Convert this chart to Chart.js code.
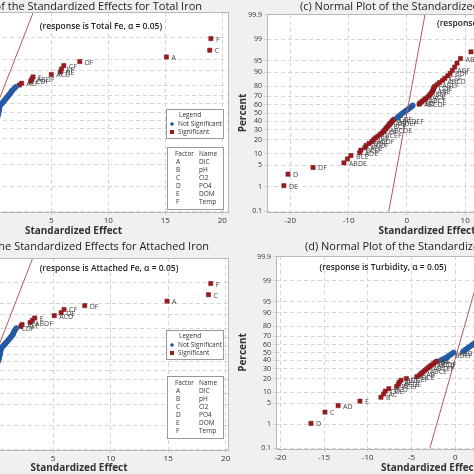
<!DOCTYPE html>
<html>
<head>
<meta charset="utf-8">
<script src="https://cdn.jsdelivr.net/npm/chart.js@4.4.0/dist/chart.umd.min.js"></script>
<style>
  body { margin: 0; width: 474px; height: 474px; overflow: hidden; position: relative; background: #f0f0f0; }
  canvas { position: absolute; }
</style>
</head>
<body>
<script>
// plotting positions (percent) for the 63 ranked effects
const pct = [1.1, 2.7, 4.3, 5.8, 7.4, 9.0, 10.6, 12.1, 13.7, 15.3, 16.9, 18.5, 20.0, 21.6, 23.2, 24.8,
  26.3, 27.9, 29.5, 31.1, 32.7, 34.2, 35.8, 37.4, 39.0, 40.5, 42.1, 43.7, 45.3, 46.8, 48.4, 50.0,
  51.6, 53.2, 54.7, 56.3, 57.9, 59.5, 61.0, 62.6, 64.2, 65.8, 67.4, 68.9, 70.5, 72.1, 73.7, 75.2,
  76.8, 78.4, 80.0, 81.5, 83.1, 84.7, 86.3, 87.9, 89.4, 91.0, 92.6, 94.2, 95.7, 97.3, 98.9];
const pctTicks = [0.1, 1, 5, 10, 20, 30, 40, 50, 60, 70, 80, 90, 95, 99, 99.9];

// (a) Total Iron
const effA = [-1.9, -1.7, -1.5, -1.3, -1.2, -1.1, -1.0, -0.9, -0.8, -0.7, -0.65, -0.6, -0.5, -0.45, -0.4, -0.3,
  -0.25, -0.2, -0.15, -0.1, -0.05, 0, 0.05, 0.1, 0.15, 0.2, 0.25, 0.28, 0.3, 0.33, 0.36, 0.38,
  0.4, 0.42, 0.44, 0.46, 0.5, 0.6, 0.7, 0.8, 0.9, 1.0, 1.1, 1.2, 1.3, 1.4, 1.5, 1.6,
  1.75, 1.9, 2.2, 2.4, 3.2, 3.3, 3.4, 5.0, 5.8, 5.9, 6.1, 7.5, 15.1, 18.9, 19.0];
const sigA = [51, 52, 53, 54, 55, 56, 57, 58, 59, 60, 61, 62, 63];
const labA = { 52: 'AEF', 53: 'CDF', 54: 'ABDF', 55: 'E', 56: 'ACD', 57: 'DE', 58: 'EF', 59: 'CF', 60: 'DF', 61: 'A', 62: 'C', 63: 'F' };
const lineA = [[-3.4, 0.1], [3.4, 99.9]];

// (b) Attached Iron
const effB = [-1.9, -1.7, -1.5, -1.3, -1.2, -1.1, -1.0, -0.9, -0.8, -0.7, -0.65, -0.6, -0.5, -0.45, -0.4, -0.3,
  -0.25, -0.2, -0.15, -0.1, -0.05, 0, 0.05, 0.1, 0.15, 0.2, 0.25, 0.28, 0.3, 0.33, 0.35, 0.37,
  0.39, 0.41, 0.43, 0.45, 0.5, 0.6, 0.7, 0.8, 0.9, 1.0, 1.1, 1.2, 1.3, 1.4, 1.5, 1.55,
  1.6, 1.7, 1.8, 2.2, 2.3, 3.0, 3.2, 3.4, 5.1, 5.7, 5.95, 7.75, 14.9, 18.5, 18.7];
const sigB = [52, 53, 54, 55, 56, 57, 58, 59, 60, 61, 62, 63];
const labB = { 51: 'CDF', 53: 'AEF', 54: 'ABDF', 56: 'E', 57: 'ACD', 58: 'DE', 59: 'CF', 60: 'DF', 61: 'A', 62: 'C', 63: 'F' };
const lineB = [[-3.2, 0.1], [3.2, 99.9]];

// (c)
const effC = [-21.1, -20.4, -16.1, -10.8, -10.2, -9.6, -8.1, -7.9, -7.2, -7.0, -6.5, -6.0, -5.7, -5.4, -5.0, -4.6,
  -4.3, -4.0, -3.8, -3.6, -3.4, -3.2, -3.0, -2.8, -2.6, -2.4, -2.2, -1.7, -1.5, -1.2, -1.0, -0.7,
  -0.4, -0.1, 0.2, 0.5, 0.8, 1.0, 2.1, 2.3, 2.6, 2.9, 3.2, 3.5, 3.8, 4.0, 4.2, 4.4,
  4.5, 4.6, 4.8, 5.2, 5.6, 6.1, 6.5, 7.0, 7.4, 7.8, 8.2, 8.6, 9.2, 11.0, 14.0];
const notSigC = [28, 29, 30, 31, 32, 33, 34, 35, 36, 37, 38];
const labC = { 1: 'DE', 2: 'D', 3: 'DF', 4: 'ABDE', 6: 'BCE', 7: 'ADE', 8: 'BCD', 9: 'ACE', 10: 'BCDF', 11: 'BDF',
  12: 'ACDF', 14: 'BE', 16: 'BCEF', 18: 'CF', 19: 'ABCDE', 22: 'BCF', 24: 'ABDEF', 26: 'ABCDEF', 27: 'CDF',
  39: 'ABCDF', 40: 'BD', 42: 'ABCF', 44: 'ACE', 46: 'BEF', 48: 'ABE', 50: 'CDE', 52: 'ABEF', 54: 'ABCD', 55: 'CSF', 57: 'BDF', 58: 'ABF', 61: 'AB' };
const lineC = [[-3.1, 0.1], [3.1, 99.9]];

// (d) Turbidity
const effD = [-16.5, -14.9, -13.4, -10.9, -8.5, -8.2, -8.0, -7.6, -6.7, -6.5, -6.4, -6.2, -5.6, -4.4, -4.1, -3.9,
  -3.7, -3.5, -3.3, -3.1, -2.9, -2.7, -2.5, -2.3, -2.1, -1.6, -1.3, -1.0, -0.8, -0.6, -0.4, -0.2,
  0.9, 1.1, 1.3, 1.5, 1.7, 1.9, 2.1, 2.3, 2.5, 2.7, 3.0, 3.3, 3.6, 3.9, 4.2, 4.6,
  5.0, 5.4, 5.9, 6.4, 7.0, 7.6, 8.3, 9.0, 9.8, 10.6, 11.5, 12.5, 13.5, 15.0, 17.0];
const notSigD = [26, 27, 28, 29, 30, 31, 32, 33, 34, 35, 36, 37, 38, 39, 40];
const labD = { 1: 'D', 2: 'C', 3: 'AD', 4: 'E', 5: 'B', 6: 'AC', 7: 'CDE', 8: 'BCD', 9: 'BCEF', 10: 'ACDE', 11: 'AE',
  12: 'BDE', 13: 'CDEF', 14: 'BCE', 16: 'AB', 18: 'ABCE', 20: 'ABCEF', 22: 'ABCD', 23: 'BCDF', 24: 'DF', 25: 'AF', 30: 'BDEF', 32: 'ABD' };
const lineD = [[-2.9, 0.1], [3.3, 99.9]];

const factorNames = [['A', 'DIC'], ['B', 'pH'], ['C', 'Cl2'], ['D', 'PO4'], ['E', 'DOM'], ['F', 'Temp']];

function probit(p) {
  const q = p < 0.5 ? p : 1 - p;
  const t = Math.sqrt(-2 * Math.log(q));
  const z = t - (2.515517 + 0.802853 * t + 0.010328 * t * t) / (1 + 1.432788 * t + 0.189269 * t * t + 0.001308 * t * t * t);
  return p < 0.5 ? -z : z;
}

const FONT = '"Open Sans", "Noto Sans", sans-serif';

const decor = {
  id: 'decor',
  beforeDraw(chart) {
    const c = chart.ctx, a = chart.chartArea;
    c.save();
    c.fillStyle = '#fff';
    c.fillRect(a.left, a.top, a.right - a.left, a.bottom - a.top);
    c.restore();
  },
  afterDraw(chart) {
    const c = chart.ctx, a = chart.chartArea, o = chart.options.plugins.decor;
    c.save();
    c.strokeStyle = '#b8b8b8';
    c.lineWidth = 1;
    c.strokeRect(a.left + 0.5, a.top + 0.5, a.right - a.left, a.bottom - a.top);
    // point labels
    c.font = '7px ' + FONT;
    c.fillStyle = '#444';
    c.textBaseline = 'middle';
    c.textAlign = 'left';
    const xs = chart.scales.x, ys = chart.scales.y;
    for (const r in o.labels) {
      const i = r - 1;
      c.fillText(o.labels[r], xs.getPixelForValue(o.eff[i]) + 5, ys.getPixelForValue(probit(pct[i] / 100)) + 1);
    }
    // title
    c.fillStyle = '#222';
    c.font = '500 11px ' + FONT;
    c.textAlign = o.title.align;
    c.fillText(o.title.text, o.title.x, o.title.y);
    c.font = '600 8.5px ' + FONT;
    c.textAlign = o.sub.align;
    c.fillText(o.sub.text, o.sub.x, o.sub.y);
    if (o.legend) {
      const [lx, ly] = o.legend, [fx, fy] = o.factors;
      c.fillStyle = '#fff';
      c.strokeStyle = '#999';
      c.fillRect(lx, ly, 57, 29); c.strokeRect(lx + 0.5, ly + 0.5, 57, 29);
      c.fillRect(fx, fy, 56, 62); c.strokeRect(fx + 0.5, fy + 0.5, 56, 62);
      c.fillStyle = '#333';
      c.font = '6.5px ' + FONT;
      c.textAlign = 'left';
      c.fillText('Legend', lx + 13, ly + 6);
      c.fillText('Not Significant', lx + 12, ly + 15);
      c.fillText('Significant', lx + 12, ly + 23);
      c.fillStyle = '#1f4f9c';
      c.beginPath(); c.arc(lx + 6, ly + 15, 1.8, 0, Math.PI * 2); c.fill();
      c.fillStyle = '#9b1b1f';
      c.fillRect(lx + 4, ly + 21, 4, 4);
      c.fillStyle = '#333';
      c.fillText('Factor', fx + 8, fy + 7);
      c.fillText('Name', fx + 32, fy + 7);
      factorNames.forEach((f, k) => {
        c.fillText(f[0], fx + 9, fy + 15 + k * 8);
        c.fillText(f[1], fx + 32, fy + 15 + k * 8);
      });
    }
    c.restore();
  }
};

function makePanel(p) {
  const cv = document.createElement('canvas');
  cv.width = p.w; cv.height = 237;
  cv.style.left = p.left + 'px'; cv.style.top = p.top + 'px';
  document.body.appendChild(cv);
  const pts = p.eff.map((x, i) => ({ x: x, y: probit(pct[i] / 100), r: i + 1 }));
  const red = pts.filter(q => p.isRed(q.r));
  const blue = pts.filter(q => !p.isRed(q.r));
  const line = p.line.map(q => ({ x: q[0], y: probit(q[1] / 100) }));
  new Chart(cv, {
    type: 'scatter',
    data: {
      datasets: [
        { data: line, showLine: true, borderColor: '#b5585c', borderWidth: 1, pointRadius: 0 },
        { data: blue, pointStyle: 'circle', pointRadius: 2.6, backgroundColor: '#2a5ea8', borderColor: '#1f4f9c', borderWidth: 0.5 },
        { data: red, pointStyle: 'rect', pointRadius: 3, backgroundColor: '#9b1b1f', borderColor: '#7d1518', borderWidth: 0.5 }
      ]
    },
    options: {
      responsive: false, animation: false, devicePixelRatio: 1,
      layout: { padding: { top: p.padTop, right: 8, left: 0, bottom: 0 } },
      plugins: {
        legend: { display: false }, tooltip: { enabled: false },
        decor: { eff: p.eff, labels: p.labels, title: p.title, sub: p.sub, legend: p.legend, factors: p.factors }
      },
      scales: {
        x: {
          type: 'linear', min: p.xmin, max: p.xmax,
          afterBuildTicks(s) { s.ticks = p.xticks.map(v => ({ value: v })); },
          afterFit(s) { s.height = p.xh; },
          grid: { color: '#d6d6d6', drawTicks: true, tickLength: 3 },
          border: { display: false, dash: [4, 3] },
          ticks: { font: { size: 8, family: FONT }, color: '#333', padding: 1 },
          title: { display: true, text: 'Standardized Effect', font: { size: 10, weight: 'bold', family: FONT }, color: '#333', padding: 0 }
        },
        y: {
          type: 'linear', min: -3.12, max: 3.12,
          afterBuildTicks(s) { s.ticks = pctTicks.map(v => ({ value: probit(v / 100) })); },
          afterFit(s) { s.width = p.yw; },
          grid: { color: '#d6d6d6', tickLength: 3 },
          border: { display: false, dash: [4, 3] },
          ticks: {
            font: { size: 7, family: FONT }, color: '#333', padding: 2,
            callback(v, i) { return String(pctTicks[i]); }
          },
          title: { display: true, text: 'Percent', font: { size: 10, weight: 'bold', family: FONT }, color: '#333', padding: 0 }
        }
      }
    },
    plugins: [decor]
  });
}

makePanel({
  left: -125, top: 0, w: 361, padTop: 12, xh: 25, yw: 44, xmin: -6.6, xmax: 20.5, xticks: [-5, 0, 5, 10, 15, 20],
  eff: effA, isRed: r => sigA.includes(r), labels: labA, line: lineA,
  title: { text: '(a) Normal Plot of the Standardized Effects for Total Iron', x: 327, y: 7, align: 'right' },
  sub: { text: '(response is Total Fe, \u03b1 = 0.05)', x: 226, y: 27, align: 'center' },
  legend: [291, 109], factors: [292, 147]
});
makePanel({
  left: -125, top: 237, w: 361, padTop: 21, xh: 24, yw: 55, xmin: -5.7, xmax: 20.2, xticks: [-5, 0, 5, 10, 15, 20],
  eff: effB, isRed: r => sigB.includes(r), labels: labB, line: lineB,
  title: { text: '(b) Normal Plot of the Standardized Effects for Attached Iron', x: 334, y: 10, align: 'right' },
  sub: { text: '(response is Attached Fe, \u03b1 = 0.05)', x: 234, y: 32, align: 'center' },
  legend: [291, 93], factors: [292, 139]
});
makePanel({
  left: 237, top: 0, w: 358, padTop: 14, xh: 25, yw: 30, xmin: -24, xmax: 30.9, xticks: [-20, -10, 0, 10, 20, 30],
  eff: effC, isRed: r => !notSigC.includes(r), labels: labC, line: lineC,
  title: { text: '(c) Normal Plot of the Standardized Effects for Suspended Iron', x: 63, y: 7, align: 'left' },
  sub: { text: '(response is Suspended Fe, \u03b1 = 0.05)', x: 200, y: 24, align: 'left' }
});
makePanel({
  left: 237, top: 237, w: 354, padTop: 19, xh: 25, yw: 39, xmin: -20.5, xmax: 14.6, xticks: [-20, -15, -10, -5, 0, 5, 10],
  eff: effD, isRed: r => !notSigD.includes(r), labels: labD, line: lineD,
  title: { text: '(d) Normal Plot of the Standardized Effects for Turbidity', x: 68, y: 10, align: 'left' },
  sub: { text: '(response is Turbidity, \u03b1 = 0.05)', x: 146, y: 31, align: 'center' }
});
</script>
</body>
</html>
